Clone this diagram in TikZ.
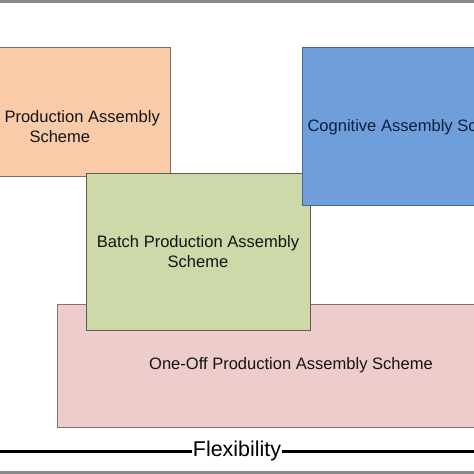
\documentclass[tikz,border=0pt]{standalone}
\usepackage{fontspec}
\setsansfont{Liberation Sans}
\usetikzlibrary{positioning}
\definecolor{asmMassFill}{HTML}{F9CBA8}
\definecolor{asmMassEdge}{HTML}{7F6B5C}
\definecolor{asmCogFill}{HTML}{6F9FDA}
\definecolor{asmCogEdge}{HTML}{4A6694}
\definecolor{asmBatchFill}{HTML}{CDD9A9}
\definecolor{asmBatchEdge}{HTML}{5C5E4E}
\definecolor{asmOneFill}{HTML}{EECCCC}
\definecolor{asmOneEdge}{HTML}{8A7272}
\definecolor{asmText}{HTML}{141414}
\definecolor{asmCogText}{HTML}{0F1E3C}
\definecolor{asmFrame}{HTML}{8A8A8A}
\tikzset{
  asm/.style={line width=1bp,align=center,inner sep=0pt,text=asmText,
              font=\sffamily\fontsize{16.6}{19.9}\selectfont},
  asmmass/.style={asm,draw=asmMassEdge,fill=asmMassFill},
  asmcog/.style={asm,draw=asmCogEdge,fill=asmCogFill},
  asmbatch/.style={asm,draw=asmBatchEdge,fill=asmBatchFill},
  asmone/.style={asm,draw=asmOneEdge,fill=asmOneFill},
  asmlbl/.style={asm,align=left},
  asmflex/.style={font=\sffamily\fontsize{21.5}{25}\selectfont,text=black,inner xsep=0.5bp,inner ysep=0pt},
  asmaxis/.style={draw=black,line width=3bp},
}
\begin{document}
\begin{tikzpicture}[x=1bp,y=-1bp]
  \useasboundingbox (0,0) rectangle (474,474);
  \clip (0,0) rectangle (474,474);
  \node[asmmass,minimum width=222bp,minimum height=129bp] (Mass) at (59,112.5) {};
  \node[asmlbl,anchor=west] (MassLbl) at (4,127) {Production Assembly\\\hspace*{25bp}Scheme};
  \node[asmone,minimum width=466bp,minimum height=123bp] (OneOff) at (291,365.5) {One-Off Production Assembly Scheme};
  \node[asmbatch,minimum width=224bp,minimum height=156bp] (Batch) at (198,252) {Batch Production Assembly\\Scheme};
  \node[asmcog,minimum width=221bp,minimum height=157bp] (Cog) at (412.5,126.5) {};
  \node[asmlbl,anchor=west,text=asmCogText] (CogLbl) at (307,127) {Cognitive Assembly Sc};

  \node[asmflex] (Flex) at (237,451) {Flexibility};
  \coordinate (FlexL) at (0,451);
  \coordinate (FlexR) at (474,451);
  \draw[asmaxis] (FlexL) -- (Flex.west);
  \draw[asmaxis] (Flex.east) -- (FlexR);

  \fill[asmFrame] (0,0) rectangle (474,3);
  \fill[asmFrame] (0,471) rectangle (474,474);
\end{tikzpicture}
\end{document}
